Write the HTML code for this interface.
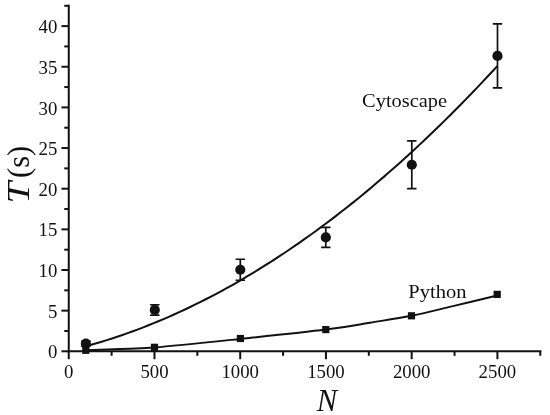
<!DOCTYPE html><html><head><meta charset="utf-8"><title>chart</title><style>html,body{margin:0;padding:0;background:#fff}svg{display:block}text{font-family:"Liberation Serif",serif;fill:#111}</style></head><body>
<svg width="550" height="415" viewBox="0 0 550 415">
<rect width="550" height="415" fill="#fff"/>
<g stroke="#111" stroke-width="2" fill="none" stroke-linecap="butt">
<path d="M68.75 4.8V352.30"/>
<path d="M67.75 351.30H541.4"/>
<path d="M61.45 351.30H68.75"/>
<path d="M64.25 330.98H68.75"/>
<path d="M61.45 310.65H68.75"/>
<path d="M64.25 290.32H68.75"/>
<path d="M61.45 270.00H68.75"/>
<path d="M64.25 249.68H68.75"/>
<path d="M61.45 229.35H68.75"/>
<path d="M64.25 209.03H68.75"/>
<path d="M61.45 188.70H68.75"/>
<path d="M64.25 168.38H68.75"/>
<path d="M61.45 148.05H68.75"/>
<path d="M64.25 127.72H68.75"/>
<path d="M61.45 107.40H68.75"/>
<path d="M64.25 87.07H68.75"/>
<path d="M61.45 66.75H68.75"/>
<path d="M64.25 46.42H68.75"/>
<path d="M61.45 26.10H68.75"/>
<path d="M64.25 5.77H68.75"/>
<path d="M68.75 351.30V359.20"/>
<path d="M111.62 351.30V355.80"/>
<path d="M154.48 351.30V359.20"/>
<path d="M197.34 351.30V355.80"/>
<path d="M240.21 351.30V359.20"/>
<path d="M283.07 351.30V355.80"/>
<path d="M325.94 351.30V359.20"/>
<path d="M368.81 351.30V355.80"/>
<path d="M411.67 351.30V359.20"/>
<path d="M454.54 351.30V355.80"/>
<path d="M497.40 351.30V359.20"/>
<path d="M540.26 351.30V355.80"/>
</g>
<text x="57.4" y="358.40" font-size="18.8" text-anchor="end">0</text>
<text x="57.4" y="317.75" font-size="18.8" text-anchor="end">5</text>
<text x="57.4" y="277.10" font-size="18.8" text-anchor="end">10</text>
<text x="57.4" y="236.45" font-size="18.8" text-anchor="end">15</text>
<text x="57.4" y="195.80" font-size="18.8" text-anchor="end">20</text>
<text x="57.4" y="155.15" font-size="18.8" text-anchor="end">25</text>
<text x="57.4" y="114.50" font-size="18.8" text-anchor="end">30</text>
<text x="57.4" y="73.85" font-size="18.8" text-anchor="end">35</text>
<text x="57.4" y="33.20" font-size="18.8" text-anchor="end">40</text>
<text x="68.75" y="378.2" font-size="18.8" text-anchor="middle">0</text>
<text x="154.48" y="378.2" font-size="18.8" text-anchor="middle">500</text>
<text x="240.21" y="378.2" font-size="18.8" text-anchor="middle">1000</text>
<text x="325.94" y="378.2" font-size="18.8" text-anchor="middle">1500</text>
<text x="411.67" y="378.2" font-size="18.8" text-anchor="middle">2000</text>
<text x="497.40" y="378.2" font-size="18.8" text-anchor="middle">2500</text>
<text x="327" y="410.6" font-size="30.5" font-style="italic" text-anchor="middle">N</text>
<g transform="translate(29.2,202.5) rotate(-90)" font-size="30.5"><text transform="translate(-1,0) scale(1.28,1)" font-style="italic">T</text><text x="24.5">(s)</text></g>
<polyline points="86.00,346.27 91.21,344.82 96.42,343.31 101.63,341.75 106.84,340.14 112.04,338.47 117.25,336.75 122.46,334.97 127.67,333.14 132.88,331.26 138.09,329.32 143.30,327.33 148.51,325.29 153.72,323.19 158.92,321.03 164.13,318.83 169.34,316.57 174.55,314.25 179.76,311.89 184.97,309.47 190.18,306.99 195.39,304.46 200.59,301.88 205.80,299.24 211.01,296.55 216.22,293.81 221.43,291.01 226.64,288.16 231.85,285.26 237.06,282.30 242.27,279.29 247.47,276.22 252.68,273.10 257.89,269.93 263.10,266.70 268.31,263.42 273.52,260.08 278.73,256.69 283.94,253.25 289.15,249.75 294.35,246.20 299.56,242.60 304.77,238.94 309.98,235.23 315.19,231.47 320.40,227.65 325.61,223.78 330.82,219.85 336.03,215.87 341.23,211.83 346.44,207.75 351.65,203.61 356.86,199.41 362.07,195.16 367.28,190.86 372.49,186.50 377.70,182.09 382.91,177.63 388.11,173.11 393.32,168.54 398.53,163.91 403.74,159.23 408.95,154.50 414.16,149.72 419.37,144.87 424.58,139.98 429.78,135.03 434.99,130.03 440.20,124.98 445.41,119.87 450.62,114.70 455.83,109.49 461.04,104.22 466.25,98.89 471.46,93.52 476.66,88.08 481.87,82.60 487.08,77.06 492.29,71.47 497.50,65.82" fill="none" stroke="#111" stroke-width="2" stroke-linejoin="round"/>
<path d="M85.80 350.30C91.50 350.07 108.55 349.37 120.00 348.90C131.45 348.43 134.43 349.17 154.50 347.50C174.57 345.83 211.85 341.88 240.40 338.90C268.95 335.92 304.20 332.30 325.80 329.60C347.40 326.90 355.72 325.00 370.00 322.70C384.28 320.40 397.50 318.60 411.50 315.80C425.50 313.00 439.72 309.28 454.00 305.90C468.28 302.52 490.00 297.23 497.20 295.50" fill="none" stroke="#111" stroke-width="2"/>
<path d="M85.90 341.20V346.20M81.20 341.20h9.4M81.20 346.20h9.4" stroke="#111" stroke-width="1.7" fill="none"/>
<circle cx="85.90" cy="343.70" r="5.1" fill="#111"/>
<path d="M154.80 304.75V315.15M150.10 304.75h9.4M150.10 315.15h9.4" stroke="#111" stroke-width="1.7" fill="none"/>
<circle cx="154.80" cy="309.95" r="5.1" fill="#111"/>
<path d="M240.30 259.25V280.25M235.60 259.25h9.4M235.60 280.25h9.4" stroke="#111" stroke-width="1.7" fill="none"/>
<circle cx="240.30" cy="269.75" r="5.1" fill="#111"/>
<path d="M325.80 227.45V247.45M321.10 227.45h9.4M321.10 247.45h9.4" stroke="#111" stroke-width="1.7" fill="none"/>
<circle cx="325.80" cy="237.45" r="5.1" fill="#111"/>
<path d="M411.80 140.90V188.60M407.10 140.90h9.4M407.10 188.60h9.4" stroke="#111" stroke-width="1.7" fill="none"/>
<circle cx="411.80" cy="164.75" r="5.1" fill="#111"/>
<path d="M497.50 23.95V87.95M492.80 23.95h9.4M492.80 87.95h9.4" stroke="#111" stroke-width="1.7" fill="none"/>
<circle cx="497.50" cy="55.95" r="5.1" fill="#111"/>
<rect x="82.20" y="346.70" width="7.2" height="7.2" fill="#111"/>
<rect x="150.90" y="343.70" width="7.2" height="7.2" fill="#111"/>
<rect x="236.80" y="334.90" width="7.2" height="7.2" fill="#111"/>
<rect x="322.20" y="326.00" width="7.2" height="7.2" fill="#111"/>
<rect x="407.90" y="312.20" width="7.2" height="7.2" fill="#111"/>
<rect x="493.60" y="290.80" width="7.2" height="7.2" fill="#111"/>
<text transform="translate(362.1,107.2) scale(1.086,1)" font-size="18.8">Cytoscape</text>
<text transform="translate(408.3,297.8) scale(1.092,1)" font-size="18.8">Python</text>
</svg></body></html>
